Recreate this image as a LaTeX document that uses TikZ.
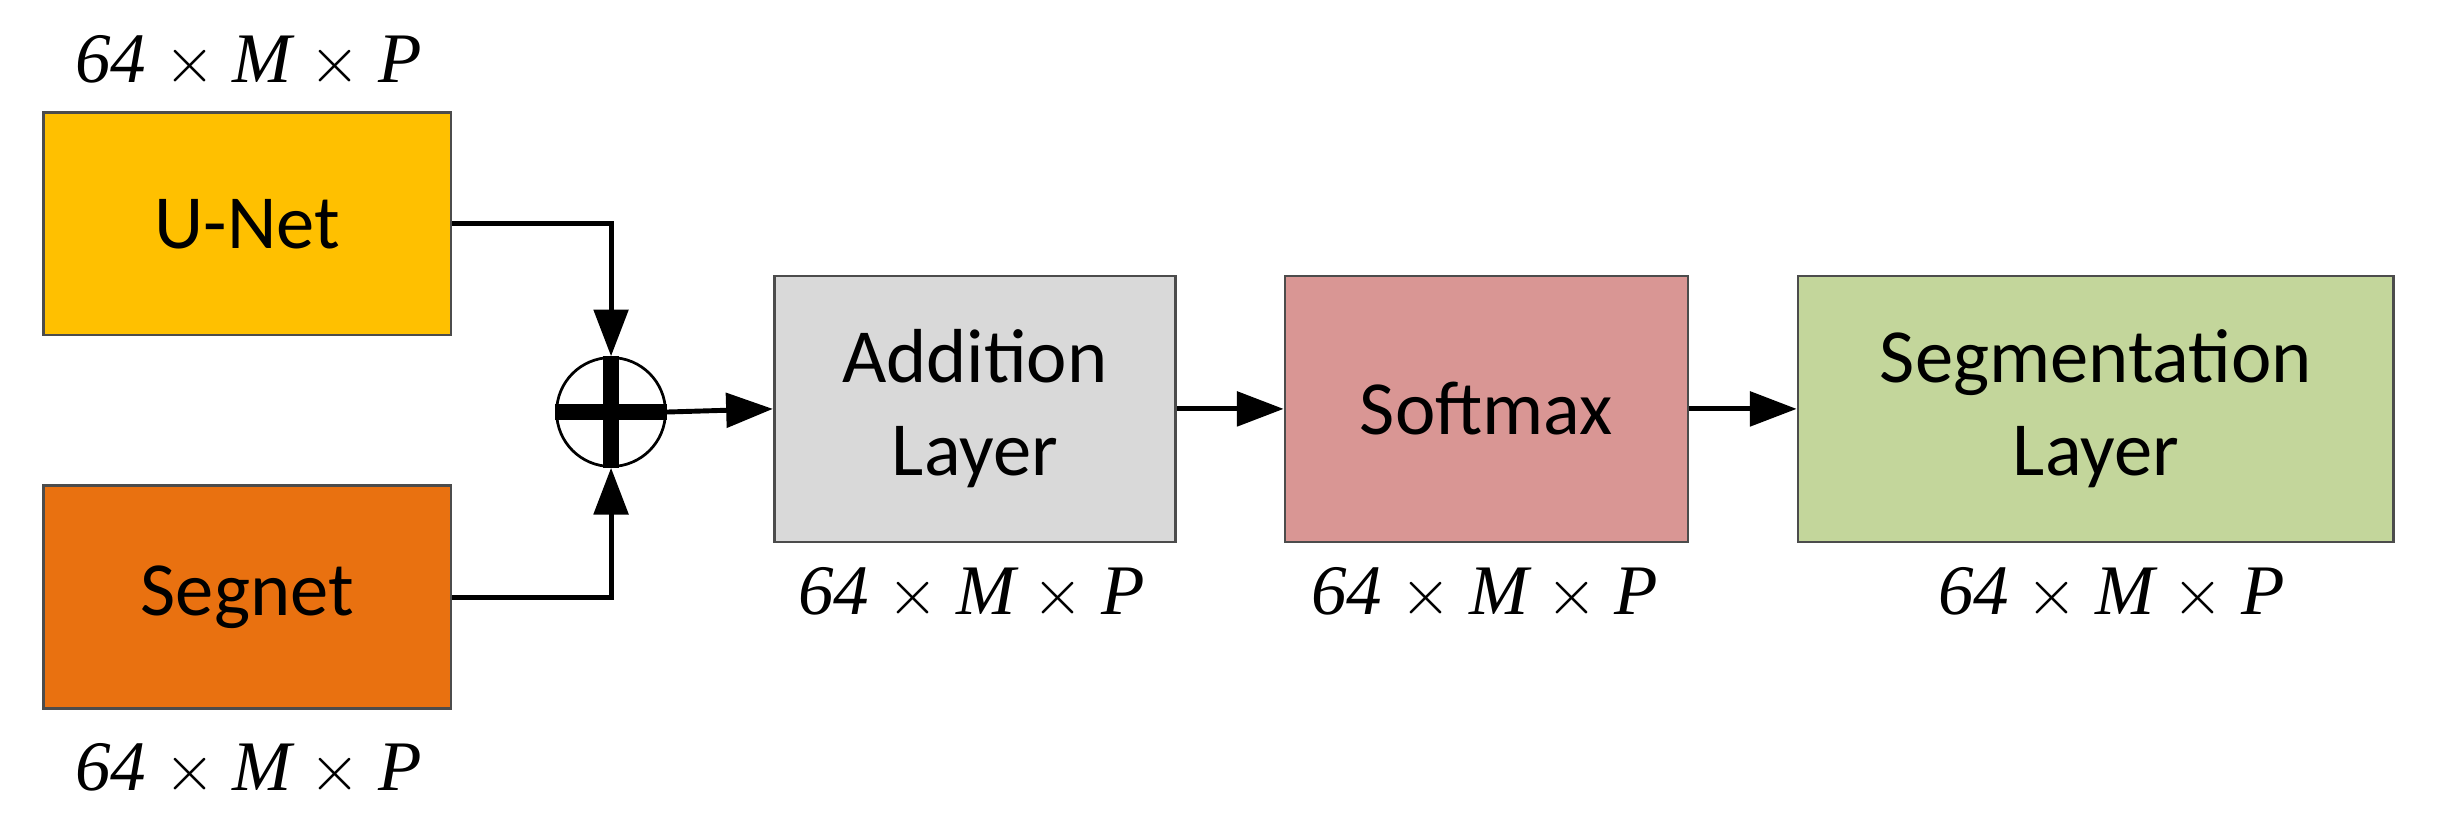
\documentclass[tikz,border=0pt]{standalone}
\usepackage{fontspec}
\setmainfont{Carlito}
\newfontfamily\lblfont{Liberation Serif}
\usetikzlibrary{arrows.meta}
\definecolor{cu}{HTML}{FFC000}
\definecolor{cs}{HTML}{E97110}
\definecolor{ca}{HTML}{D9D9D9}
\definecolor{cm}{HTML}{D99694}
\definecolor{cg}{HTML}{C3D69B}
\tikzset{
 blk/.style={draw=black!70, line width=0.5pt, minimum height=1.43cm, align=center, font=\fontsize{14}{17}\selectfont, inner sep=0pt},
 lbl/.style={font=\lblfont\itshape\fontsize{13}{15}\selectfont, inner sep=0pt},
 arr/.style={line width=0.9pt, -{Triangle[length=0.3cm,width=0.22cm]}}
}
\begin{document}
\begin{tikzpicture}[x=0.01cm,y=-0.01cm]
\useasboundingbox (0,0) rectangle (1568,540);
\node[blk, fill=cu, minimum width=2.62cm] (unet) at (159,144) {U-Net};
\node[blk, fill=cs, minimum width=2.62cm] (seg) at (159,384) {Segnet};
\node[blk, fill=ca, minimum width=2.58cm, minimum height=1.71cm] (add) at (627,263) {Addition\\Layer};
\node[blk, fill=cm, minimum width=2.59cm, minimum height=1.71cm] (soft) at (956,263) {Softmax};
\node[blk, fill=cg, minimum width=3.83cm, minimum height=1.71cm] (segl) at (1348,263) {Segmentation\\Layer};
\node[draw, circle, minimum size=0.7cm, inner sep=0pt, line width=0.5pt] (sum) at (393,265) {};
\draw[line width=3pt] (sum.north) -- (sum.south) (sum.west) -- (sum.east);
\coordinate (c1) at (393,144);
\coordinate (c2) at (393,384);
\draw[arr] (unet.east) -- (c1) -- (sum.north);
\draw[arr] (seg.east) -- (c2) -- (sum.south);
\draw[arr] (sum.east) -- (add.west);
\draw[arr] (add.east) -- (soft.west);
\draw[arr] (soft.east) -- (segl.west);
\node[lbl] (l1) at (160,40) {64 $\times$ \textit{M} $\times$ \textit{P}};
\node[lbl] (l2) at (160,495) {64 $\times$ \textit{M} $\times$ \textit{P}};
\node[lbl] (l3) at (625,382) {64 $\times$ \textit{M} $\times$ \textit{P}};
\node[lbl] (l4) at (955,382) {64 $\times$ \textit{M} $\times$ \textit{P}};
\node[lbl] (l5) at (1358,382) {64 $\times$ \textit{M} $\times$ \textit{P}};
\end{tikzpicture}
\end{document}
